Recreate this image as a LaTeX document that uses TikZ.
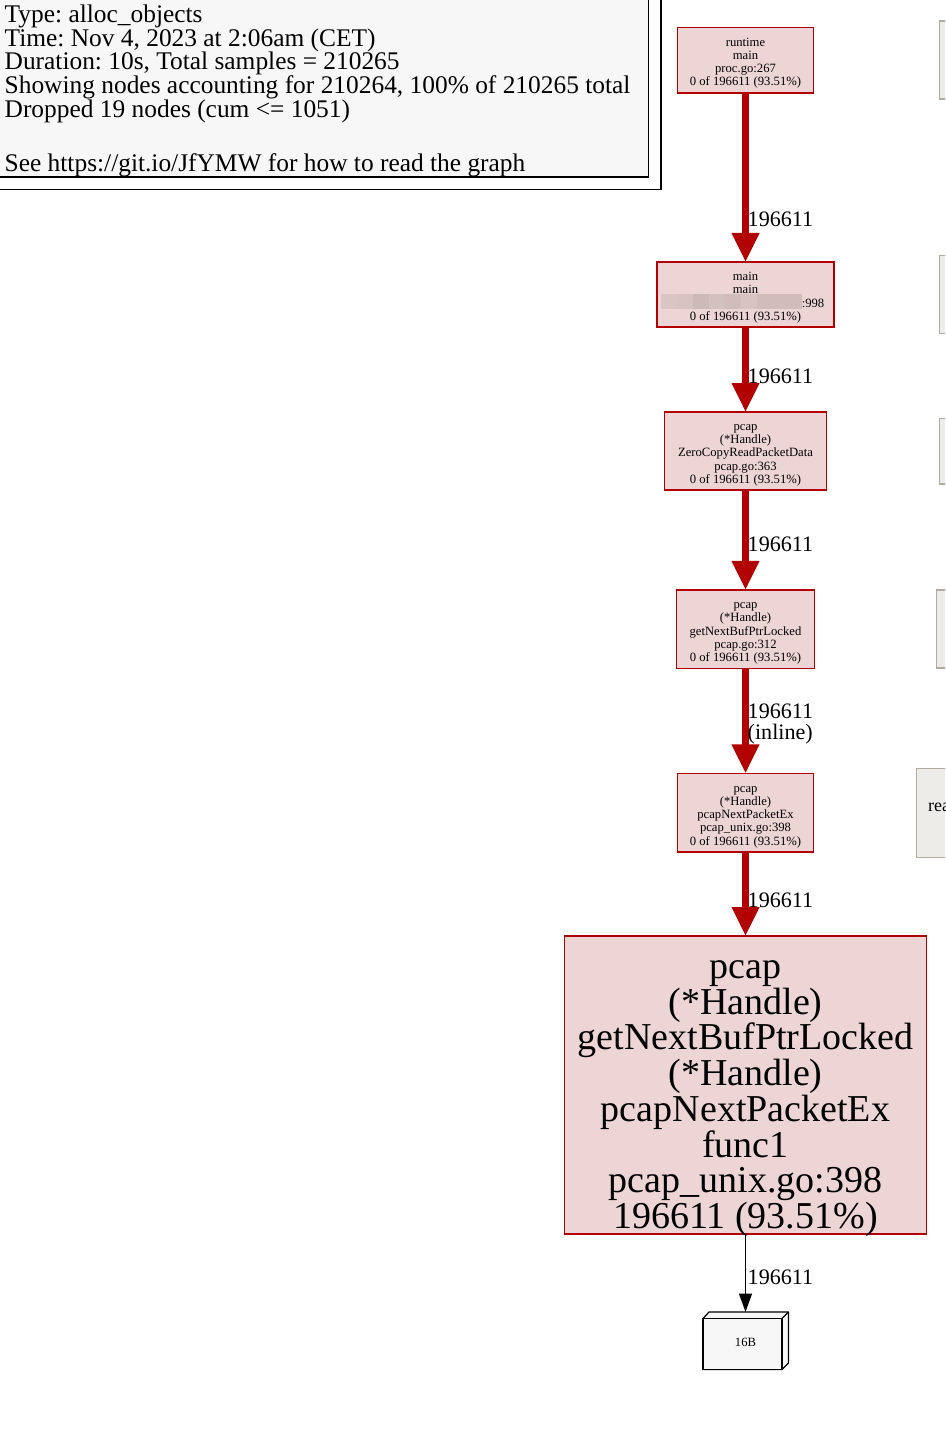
\documentclass[tikz,border=0pt]{standalone}
\usepackage{fontspec}
\setmainfont{Liberation Serif}
\usetikzlibrary{arrows.meta}
\definecolor{hotfill}{HTML}{EDD5D5}
\definecolor{hotline}{HTML}{B20000}
\definecolor{coldfill}{HTML}{EDECE8}
\definecolor{coldline}{HTML}{B2AC9F}
\newcommand{\toppad}[1]{\rule{0pt}{#1}}
\tikzset{
  hotbox/.style={draw=hotline,fill=hotfill,line width=1.6pt,inner sep=0pt,outer sep=0pt,align=center,
    font=\frenchspacing\fontsize{12.65}{13.2}\selectfont},
  coldbox/.style={draw=coldline,fill=coldfill,line width=1.6pt,inner sep=0pt,outer sep=0pt},
  hotedge/.style={draw=hotline,line width=7pt,-{Triangle[width=26pt,length=29pt]}},
  edgelabel/.style={anchor=west,inner sep=0pt,align=left,font=\fontsize{22.1}{21}\selectfont}
}
\begin{document}
\begin{tikzpicture}[x=1pt,y=-1pt]
\useasboundingbox (0,0) rectangle (945,1431);
\clip (0,0) rectangle (945,1431);
% legend
\node[draw=black,fill=white,line width=1.5pt,inner sep=0pt,outer sep=0pt,minimum width=682pt,minimum height=210pt] (legendouter) at (320,84.5) {};
\node[draw=black,fill=black!3,line width=1.5pt,inner sep=0pt,outer sep=0pt,minimum width=670pt,minimum height=198pt] (legendinner) at (313.5,78) {};
\node[anchor=north west,inner sep=0pt,align=left,font=\frenchspacing\fontsize{25.4}{23.8}\selectfont] (legend) at (4.5,4.5)
  {Type: alloc\_objects\\Time: Nov 4, 2023 at 2:06am (CET)\\Duration: 10s, Total samples = 210265\\
   Showing nodes accounting for 210264, 100\% of 210265 total\\Dropped 19 nodes (cum <= 1051)\\[30.5pt]
   See https://git.io/JfYMW for how to read the graph};
% hot path
\node[hotbox,minimum width=136pt,minimum height=65.5pt] (runtime) at (745.5,60.2)
  {\toppad{14.5pt}runtime\\main\\proc.go:267\\0 of 196611 (93.51\%)};
\node[hotbox,minimum width=177pt,minimum height=65pt] (mainmain) at (745.5,294.5)
  {\toppad{14.5pt}main\\main\\\hspace*{135pt}:998\\0 of 196611 (93.51\%)};
\foreach \x/\w/\shade in {661/16/8,677/16/9,693/16/13,709/16/10,725/16/12,741/16/9,757/45/12}
  \fill[black!\shade!hotfill] (\x,293.5) rectangle ++(\w,15.5);
\node[hotbox,minimum width=162pt,minimum height=78pt] (zerocopy) at (745.5,451)
  {\toppad{14.5pt}pcap\\(*Handle)\\ZeroCopyReadPacketData\\pcap.go:363\\0 of 196611 (93.51\%)};
\node[hotbox,minimum width=138pt,minimum height=78.5pt] (nextbuf) at (745.5,629.2)
  {\toppad{14.5pt}pcap\\(*Handle)\\getNextBufPtrLocked\\pcap.go:312\\0 of 196611 (93.51\%)};
\node[hotbox,minimum width=136pt,minimum height=78.5pt] (nextpacket) at (745.5,812.7)
  {\toppad{14.5pt}pcap\\(*Handle)\\pcapNextPacketEx\\pcap\_unix.go:398\\0 of 196611 (93.51\%)};
\node[hotbox,minimum width=362pt,minimum height=298pt,text depth=0pt,font=\frenchspacing\fontsize{38}{35.7}\selectfont] (func) at (745.5,1085)
  {\toppad{37pt}pcap\\(*Handle)\\getNextBufPtrLocked\\(*Handle)\\pcapNextPacketEx\\func1\\pcap\_unix.go:398\\196611 (93.51\%)};
% 16B box
\coordinate (boxtop) at (745.5,1312);
\filldraw[draw=black,fill=black!3,line width=1.2pt,line join=round] (703,1318.5) -- (709,1312) -- (788.5,1312) -- (788.5,1363) -- (782,1369.5) -- (703,1369.5) -- cycle;
\node[draw=black,fill=black!3,line width=1.2pt,inner sep=0pt,outer sep=0pt,minimum width=79pt,minimum height=51pt] (leaf) at (742.5,1344) {};
\node[inner sep=0pt,font=\fontsize{12.65}{13}\selectfont] (leaftext) at (745.5,1342.5) {16B};
\draw[black,line width=1.2pt] (782,1318.5) -- (788.5,1312);
% edges
\draw[hotedge] (runtime) -- (mainmain);
\draw[hotedge] (mainmain) -- (zerocopy);
\draw[hotedge] (zerocopy) -- (nextbuf);
\draw[hotedge] (nextbuf) -- (nextpacket);
\draw[hotedge] (nextpacket) -- (func);
\draw[black,line width=1.4pt,-{Triangle[width=13pt,length=18.5pt]}] (func.south) -- (boxtop);
\node[edgelabel] (lab1) at (747.5,219) {196611};
\node[edgelabel] (lab2) at (747.5,376) {196611};
\node[edgelabel] (lab3) at (747.5,544) {196611};
\node[edgelabel] (lab4) at (747.5,724.5) {196611\\(inline)};
\node[edgelabel] (lab5) at (747.5,900) {196611};
\node[edgelabel] (lab6) at (747.5,1277) {196611};
% cut off nodes on the right
\node[coldbox,anchor=north west,minimum width=40pt,minimum height=78pt] (cold1) at (939.5,21) {};
\node[coldbox,anchor=north west,minimum width=40pt,minimum height=78pt] (cold2) at (939.5,255.5) {};
\node[coldbox,anchor=north west,minimum width=40pt,minimum height=65.5pt] (cold3) at (939.5,418.5) {};
\node[coldbox,anchor=north west,minimum width=40pt,minimum height=78pt] (cold4) at (936.5,590) {};
\node[coldbox,anchor=north west,minimum width=60pt,minimum height=89pt] (cold5) at (916.5,768.5) {};
\node[anchor=west,inner sep=0pt,font=\fontsize{18}{20}\selectfont] (coldtext) at (928,807) {rea};
\end{tikzpicture}
\end{document}
